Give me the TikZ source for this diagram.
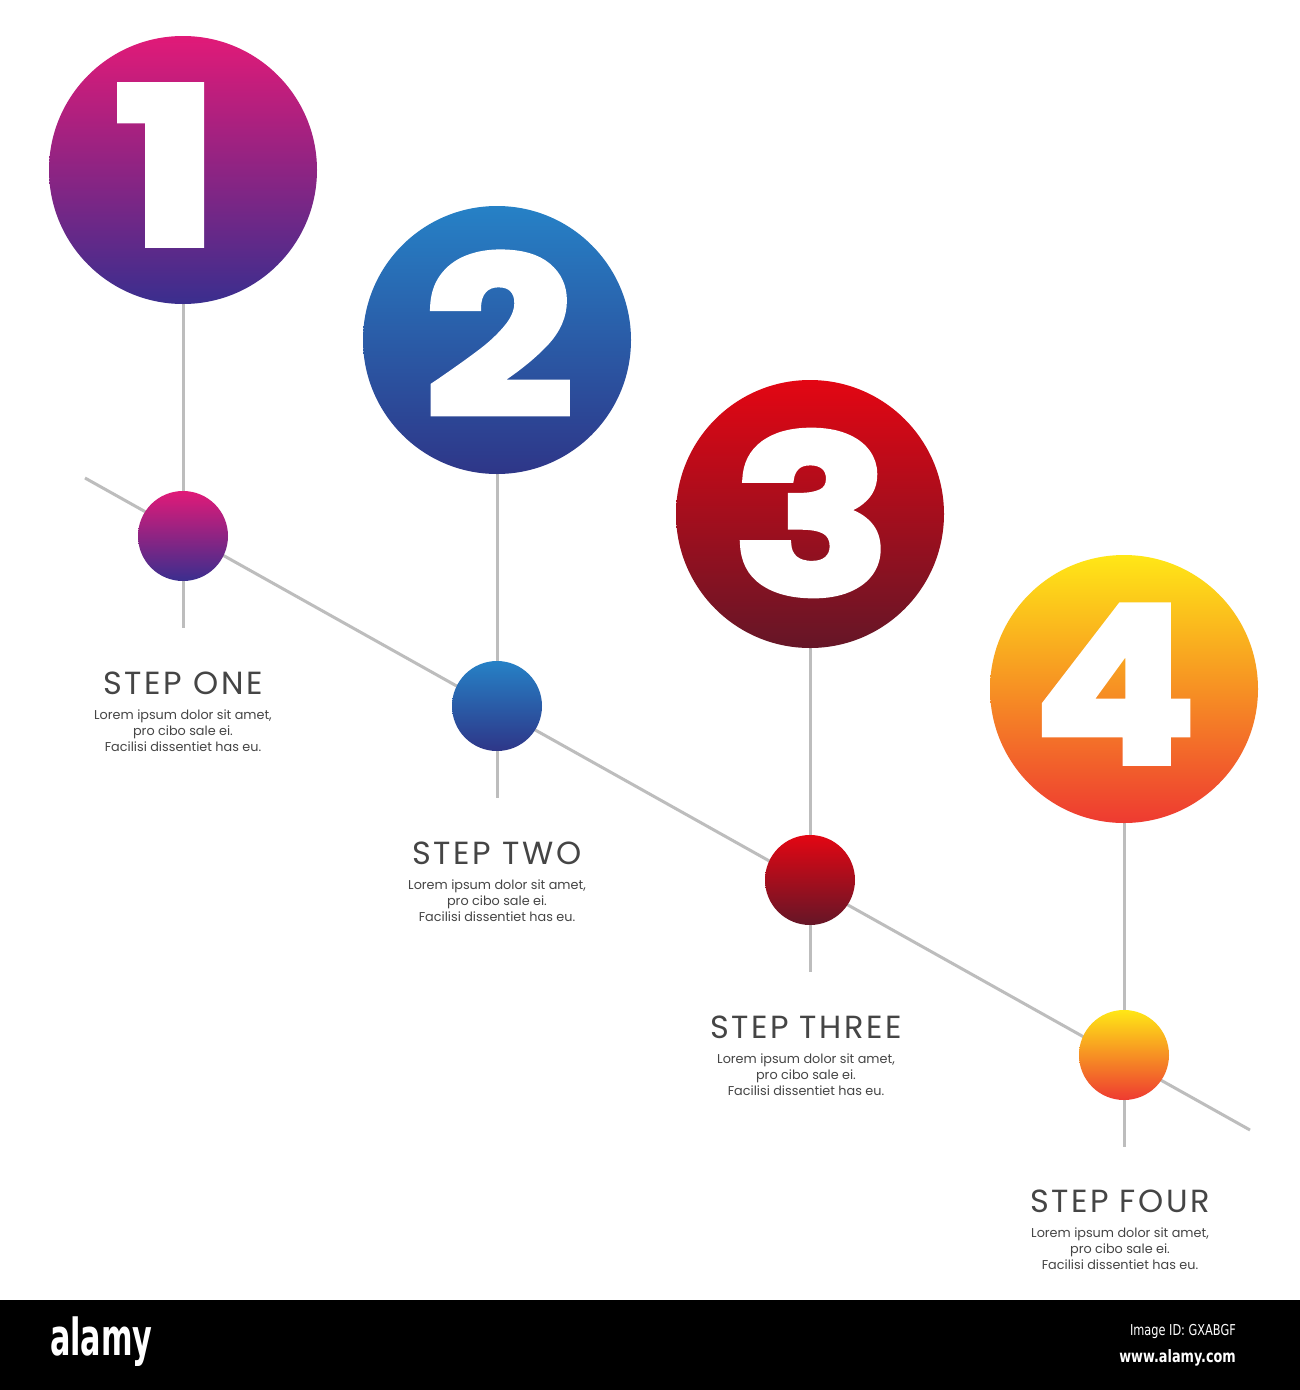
\documentclass[tikz,border=0pt]{standalone}
\usepackage{fontspec}
\usetikzlibrary{calc}
\setmainfont{Poppins}
\newfontfamily\numfont{Poppins}[FakeBold=3]
\newfontfamily\titlefont{Poppins}[LetterSpace=8]
\newfontfamily\wmfont{DejaVu Sans Condensed}
\definecolor{linegrey}{HTML}{BDBDBD}
\definecolor{txtgrey}{HTML}{454545}
\definecolor{aT}{HTML}{E11A78}\definecolor{aB}{HTML}{3A2E8E}
\definecolor{bT}{HTML}{2681C6}\definecolor{bB}{HTML}{2E3688}
\definecolor{cT}{HTML}{E30613}\definecolor{cB}{HTML}{651627}
\definecolor{dT}{HTML}{FFE716}\definecolor{dM}{HTML}{F7A823}\definecolor{dB}{HTML}{EE3A31}
\begin{document}
\begin{tikzpicture}[x=1pt,y=-1pt,
  conn/.style={draw=linegrey,line width=3pt},
  bignum/.style={inner sep=0pt,text=white,font=\numfont\bfseries\fontsize{218}{218}\selectfont},
  title/.style={inner sep=0pt,text=txtgrey,font=\titlefont\fontsize{32}{32}\selectfont},
  body/.style={inner sep=0pt,text=txtgrey,align=center,font=\fontsize{12.8}{15.6}\selectfont}]
\useasboundingbox (0,0) rectangle (1300,1390);
\fill[white] (0,0) rectangle (1300,1390);
% coordinates
\coordinate (L0) at (85,478);
\coordinate (L1) at (1250,1130);
\foreach \n/\x/\y in {1/183/170,2/497/340,3/810/514,4/1124/689}{
  \coordinate (B\n) at (\x,\y);
  \coordinate (S\n) at (\x,\y+366);
  \coordinate (E\n) at (\x,\y+458);
}
% connectors
\draw[conn] (L0) -- (L1);
\foreach \n in {1,2,3,4}{\draw[conn] (B\n) -- (E\n);}
% big circles
\shade[top color=aT,bottom color=aB] (B1) circle (134);
\shade[top color=bT,bottom color=bB] (B2) circle (134);
\shade[top color=cT,bottom color=cB] (B3) circle (134);
\shade[top color=dT,middle color=dM,bottom color=dB] (B4) circle (134);
% small circles
\shade[top color=aT,bottom color=aB] (S1) circle (45);
\shade[top color=bT,bottom color=bB] (S2) circle (45);
\shade[top color=cT,bottom color=cB] (S3) circle (45);
\shade[top color=dT,middle color=dM,bottom color=dB] (S4) circle (45);
% numbers
\node[bignum,xscale=1.3] (n1) at ($(B1)+(-16,-5)$) {1};
\node[bignum,xscale=1.2] (n2) at ($(B2)+(2,-6)$) {2};
\node[bignum,xscale=1.2] (n3) at ($(B3)+(2,-1)$) {3};
\node[bignum,xscale=1.1] (n4) at ($(B4)+(-9,-5)$) {4};
% texts
\foreach \n/\x/\y/\t in {1/183/683/STEP ONE,2/497/853/STEP TWO,3/806/1027/STEP THREE,4/1120/1201/STEP FOUR}{
  \node[title] (t\n) at (\x,\y) {\t};
  \node[body,anchor=north] (d\n) at (\x,\y+27) {Lorem ipsum dolor sit amet,\\pro cibo sale ei.\\Facilisi dissentiet has eu.};
}
% bottom bar
\fill[black] (0,1300) rectangle (1300,1390);
\node[inner sep=0pt,text=white,anchor=west,xscale=0.66,font=\wmfont\bfseries\fontsize{51}{51}\selectfont] (wm) at (50,1342) {alamy};
\node[inner sep=0pt,text=white,anchor=east,xscale=0.84,font=\wmfont\fontsize{15}{15}\selectfont] (wid) at (1236,1331) {Image ID: GXABGF};
\node[inner sep=0pt,text=white,anchor=east,xscale=0.84,font=\wmfont\bfseries\fontsize{17}{17}\selectfont] (wurl) at (1236,1358) {www.alamy.com};
\end{tikzpicture}
\end{document}
